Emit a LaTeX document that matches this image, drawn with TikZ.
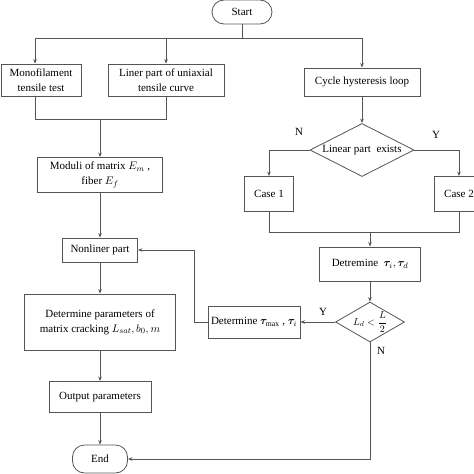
\documentclass[tikz,border=0pt]{standalone}
\usepackage{bm}
\usepackage{fontspec}
\setmainfont{Liberation Serif}
\usetikzlibrary{shapes.geometric,arrows.meta}
\definecolor{ln}{HTML}{555555}
\begin{document}
\begin{tikzpicture}[x=1pt,y=-1pt,
  font=\fontsize{11}{15}\selectfont,
  box/.style={draw=ln,line width=0.8pt,rectangle,inner sep=0pt,align=center},
  term/.style={box,rounded corners=12pt},
  dec/.style={draw=ln,line width=0.8pt,diamond,inner sep=0pt},
  con/.style={draw=ln,line width=0.8pt},
  arr/.style={con,-{Stealth[length=4.5pt,width=3.5pt]}},
  lab/.style={inner sep=0pt}]
\useasboundingbox (0,0) rectangle (474,474);
\node[term,minimum width=60pt,minimum height=24pt] (start) at (242,12) {Start};
\node[box,minimum width=80pt,minimum height=32pt] (mono) at (41,80) {Monofilament\\tensile test};
\node[box,minimum width=116pt,minimum height=32pt] (liner) at (166,80) {Liner part of uniaxial\\tensile curve};
\node[box,minimum width=116pt,minimum height=28pt] (cycle) at (362,82) {Cycle hysteresis loop};
\node[box,minimum width=125pt,minimum height=35pt] (moduli) at (100,175) {Moduli of matrix $E_m$ ,\\fiber $E_f$};
\node[box,minimum width=75pt,minimum height=24pt] (nonl) at (100,250) {Nonliner part};
\node[box,minimum width=151pt,minimum height=56pt] (params) at (100,322) {Determine parameters of\\matrix cracking $L_{sat},b_0,m$};
\node[box,minimum width=102pt,minimum height=31pt] (output) at (100,397) {Output parameters};
\node[term,minimum width=55pt,minimum height=28pt] (end) at (100,459) {End};
\node[dec,minimum width=104pt,minimum height=53pt,label={center:Linear part\ \ exists}] (d1) at (362,150) {};
\node[box,minimum width=49pt,minimum height=35pt] (case1) at (269,194) {Case 1};
\node[box,minimum width=50pt,minimum height=35pt] (case2) at (459,194) {Case 2};
\node[box,minimum width=101pt,minimum height=34pt] (det) at (370,264) {Detremine\ \ $\bm{\tau}_i,\bm{\tau}_d$};
\node[dec,minimum width=69pt,minimum height=40pt] (d2) at (370,322) {};
\node[lab,font=\fontsize{10}{12}\selectfont] (d2t) at (d2.center) {$\displaystyle L_d<\frac{L}{2}$};
\node[box,minimum width=92pt,minimum height=32pt] (tmax) at (254,322) {Determine\ $\bm{\tau}_{\max}$ , $\bm{\tau}_i$};
\coordinate (j1) at (242,38);
\coordinate (j2) at (100,119);
\coordinate (j3) at (370,232);
\coordinate (j4) at (194,322);
\draw[con] (start.south) -- (j1);
\draw[arr] (j1) -| ([xshift=-6pt]mono.north);
\draw[arr] (j1) -| (liner.north);
\draw[arr] (j1) -| (cycle.north);
\draw[con] ([xshift=-6pt]mono.south) |- (j2);
\draw[con] (liner.south) |- (j2);
\draw[arr] (j2) -- (moduli.north);
\draw[arr] (moduli.south) -- (nonl.north);
\draw[arr] (nonl.south) -- (params.north);
\draw[arr] (params.south) -- (output.north);
\draw[arr] (output.south) -- (end.north);
\draw[arr] (cycle.south) -- (d1.north);
\draw[arr] (d1.west) -| (case1.north);
\draw[arr] (d1.east) -| (case2.north);
\draw[con] (case1.south) |- (j3);
\draw[con] (case2.south) |- (j3);
\draw[arr] (j3) -- (det.north);
\draw[arr] (det.south) -- (d2.north);
\draw[arr] (d2.west) -- (tmax.east);
\draw[con] (tmax.west) -- (j4);
\draw[arr] (j4) |- (nonl.east);
\draw[arr] (d2.south) |- (end.east);
\node[lab] (n1) at (299,132) {N};
\node[lab] (y1) at (436,135) {Y};
\node[lab] (y2) at (323,312) {Y};
\node[lab] (n2) at (381,351) {N};
\end{tikzpicture}
\end{document}
